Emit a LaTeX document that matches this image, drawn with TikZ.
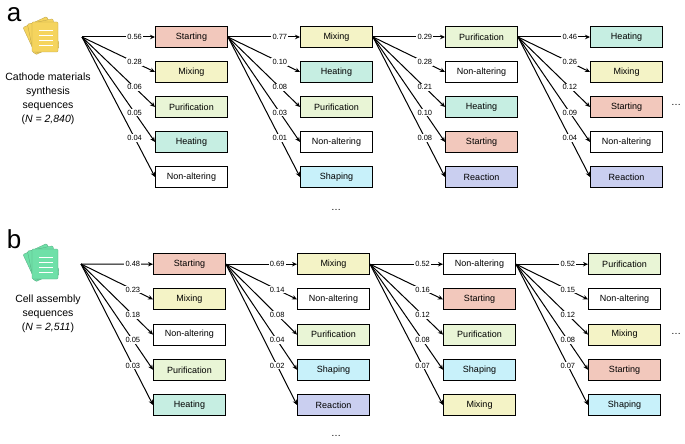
\documentclass[tikz,border=0pt]{standalone}
\usepackage{fontspec}
\setmainfont{Liberation Sans}
\usetikzlibrary{arrows.meta}
\definecolor{cStart}{HTML}{F2C8BC}
\definecolor{cMix}{HTML}{F4F3C6}
\definecolor{cPur}{HTML}{E9F5D6}
\definecolor{cHeat}{HTML}{C6EEE2}
\definecolor{cShape}{HTML}{C8F1FA}
\definecolor{cReact}{HTML}{CACFF0}
\definecolor{cNon}{HTML}{FFFFFF}
\definecolor{cDocA}{HTML}{F5D45E}
\definecolor{cDocB}{HTML}{6FE0A8}
\tikzset{
  box/.style={draw, line width=1pt, minimum width=72pt, minimum height=21pt, inner sep=0pt, font=\fontsize{9}{10}\selectfont},
  Starting/.style={box, fill=cStart},
  Mixing/.style={box, fill=cMix},
  Purification/.style={box, fill=cPur},
  Heating/.style={box, fill=cHeat},
  Shaping/.style={box, fill=cShape},
  Reaction/.style={box, fill=cReact},
  Non-altering/.style={box, fill=cNon},
  edge/.style={line width=1pt, -{Stealth[length=5pt,width=4.5pt]}},
  prob/.style={fill=white, inner sep=1.2pt, font=\fontsize{7.5}{8}\selectfont},
  page/.style={draw=#1!75!black, fill=#1, line width=0.3pt, rounded corners=1pt}
}
\begin{document}
\begin{tikzpicture}[x=1pt,y=-1pt]
\useasboundingbox (0,0) rectangle (685,444);

% panel letters
\node[font=\fontsize{26}{26}\selectfont] (la) at (14,15) {a};
\node[font=\fontsize{26}{26}\selectfont] (lb) at (14,239) {b};

% document icons
\foreach \ang in {25,12,0} {
  \draw[page=cDocA, rotate around={\ang:(40,45)}] (32,22) rectangle (58,52);
  \draw[page=cDocB, rotate around={\ang:(40,272)}] (32,249) rectangle (58,279);
}
\foreach \yy in {30,35,40,45} {
  \draw[white, line width=0.6pt] (39,\yy) -- (53,\yy);
  \draw[white, line width=0.6pt] (39,\yy+227) -- (53,\yy+227);
}

% source texts
\node[align=center, font=\fontsize{10.5}{14}\selectfont] (srcA) at (48,99)
  {Cathode materials\\synthesis\\sequences\\(\textit{N = 2,840})};
\node[align=center, font=\fontsize{10.5}{14}\selectfont] (srcB) at (48,314)
  {Cell assembly\\sequences\\(\textit{N = 2,511})};
\coordinate (a0) at (82,37);
\coordinate (b0) at (81,264);

% panel a
\foreach \lab/\p [count=\r] in {Starting/0.56,Mixing/0.28,Purification/0.06,Heating/0.05,Non-altering/0.04} {
  \node[\lab] (a1\r) at (191.5,2+35*\r) {\lab};
  \draw[edge] (a0) -- node[prob, pos=0.72] {\p} (a1\r.west);
}
\foreach \lab/\p [count=\r] in {Mixing/0.77,Heating/0.10,Purification/0.08,Non-altering/0.03,Shaping/0.01} {
  \node[\lab] (a2\r) at (336.5,2+35*\r) {\lab};
  \draw[edge] (a11.east) -- node[prob, pos=0.72] {\p} (a2\r.west);
}
\foreach \lab/\p [count=\r] in {Purification/0.29,Non-altering/0.28,Heating/0.21,Starting/0.10,Reaction/0.08} {
  \node[\lab] (a3\r) at (481.5,2+35*\r) {\lab};
  \draw[edge] (a21.east) -- node[prob, pos=0.72] {\p} (a3\r.west);
}
\foreach \lab/\p [count=\r] in {Heating/0.46,Mixing/0.26,Starting/0.12,Non-altering/0.09,Reaction/0.04} {
  \node[\lab] (a4\r) at (626.5,2+35*\r) {\lab};
  \draw[edge] (a31.east) -- node[prob, pos=0.72] {\p} (a4\r.west);
}

% panel b
\foreach \lab/\p [count=\r] in {Starting/0.48,Mixing/0.23,Non-altering/0.18,Purification/0.05,Heating/0.03} {
  \node[\lab] (b1\r) at (189.5,229+35.2*\r) {\lab};
  \draw[edge] (b0) -- node[prob, pos=0.72] {\p} (b1\r.west);
}
\foreach \lab/\p [count=\r] in {Mixing/0.69,Non-altering/0.14,Purification/0.08,Shaping/0.04,Reaction/0.02} {
  \node[\lab] (b2\r) at (333.5,229+35.2*\r) {\lab};
  \draw[edge] (b11.east) -- node[prob, pos=0.72] {\p} (b2\r.west);
}
\foreach \lab/\p [count=\r] in {Non-altering/0.52,Starting/0.16,Purification/0.12,Shaping/0.08,Mixing/0.07} {
  \node[\lab] (b3\r) at (479.5,229+35.2*\r) {\lab};
  \draw[edge] (b21.east) -- node[prob, pos=0.72] {\p} (b3\r.west);
}
\foreach \lab/\p [count=\r] in {Purification/0.52,Non-altering/0.15,Mixing/0.12,Starting/0.08,Shaping/0.07} {
  \node[\lab] (b4\r) at (624.5,229+35.2*\r) {\lab};
  \draw[edge] (b31.east) -- node[prob, pos=0.72] {\p} (b4\r.west);
}

% ellipses
\node (dotsA) at (336,210) {\dots};
\node (dotsB) at (336,436) {\dots};
\node (dotsAr) at (676,105) {\dots};
\node (dotsBr) at (676,334) {\dots};
\end{tikzpicture}
\end{document}
